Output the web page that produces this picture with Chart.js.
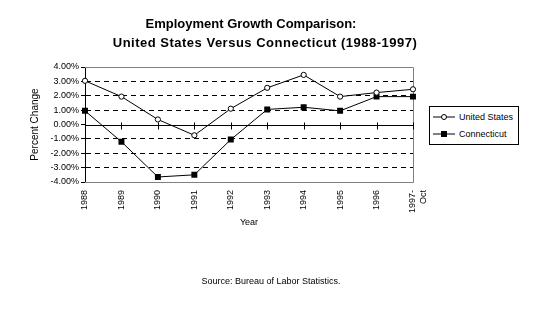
<!DOCTYPE html>
<html>
<head>
<meta charset="utf-8">
<script src="https://cdn.jsdelivr.net/npm/chart.js@4/dist/chart.umd.min.js"></script>
<style>
    body { margin: 0; background: #fff; font-family: Arial, "Liberation Sans", sans-serif; }
    #wrap { position: relative; width: 542px; height: 309px; }
    .title { position: absolute; width: 400px; text-align: center; font-weight: bold; font-size: 13px; line-height: 19px; }
    #source { position: absolute; left: 0; top: 276px; width: 542px; text-align: center; font-size: 9px; }
    #legend { position: absolute; left: 429px; top: 106px; width: 88px; height: 37px; border: 1px solid #000; background: #fff; font-size: 9px; }
    .item { position: absolute; left: 3px; height: 12px; display: flex; align-items: center; }
    .item svg { margin-right: 4px; }
</style>
</head>
<body>
<div id="wrap">
    <canvas id="chart" width="542" height="309"></canvas>
    <div class="title" style="left:51px; top:14px; letter-spacing:0;">Employment Growth Comparison:</div>
    <div class="title" style="left:65px; top:33px; letter-spacing:0.5px;">United States Versus Connecticut (1988-1997)</div>
    <div id="legend">
        <div class="item" style="top:4px;">
            <svg width="22" height="8"><line x1="0" y1="4" x2="22" y2="4" stroke="#000" stroke-width="1"/><circle cx="11" cy="4" r="2.5" fill="#fff" stroke="#000"/></svg>United States
        </div>
        <div class="item" style="top:21px;">
            <svg width="22" height="8"><line x1="0" y1="4" x2="22" y2="4" stroke="#000" stroke-width="1"/><rect x="8" y="1" width="6" height="6" fill="#000"/></svg>Connecticut
        </div>
    </div>
    <div id="source">Source: Bureau of Labor Statistics.</div>
</div>
<script>
const years = ['1988', '1989', '1990', '1991', '1992', '1993', '1994', '1995', '1996', ['1997-', 'Oct']];
const usGrowth = [3.04, 1.94, 0.35, -0.75, 1.1, 2.55, 3.45, 1.94, 2.22, 2.45];
const ctGrowth = [0.95, -1.2, -3.65, -3.5, -1.05, 1.05, 1.2, 0.95, 1.94, 1.94];
const yTicks = [4, 3, 2, 1, 0, -1, -2, -3, -4];

// gray frame, solid zero line and the little tick marks crossing it
const framePlugin = {
    id: 'frame',
    beforeDatasetsDraw(chart) {
        const { ctx, chartArea: a, scales } = chart;
        const zeroY = Math.round(scales.y.getPixelForValue(0)) + 0.5;
        ctx.save();
        ctx.lineWidth = 1;
        ctx.strokeStyle = '#808080';
        ctx.beginPath();
        ctx.moveTo(a.left, Math.round(a.top) + 0.5);
        ctx.lineTo(Math.round(a.right) + 0.5, Math.round(a.top) + 0.5);
        ctx.lineTo(Math.round(a.right) + 0.5, Math.round(a.bottom) + 0.5);
        ctx.lineTo(a.left, Math.round(a.bottom) + 0.5);
        ctx.stroke();
        ctx.strokeStyle = '#000';
        ctx.beginPath();
        ctx.moveTo(a.left, zeroY);
        ctx.lineTo(a.right, zeroY);
        years.forEach((y, i) => {
            const x = Math.round(scales.x.getPixelForValue(i)) + 0.5;
            ctx.moveTo(x, zeroY - 3);
            ctx.lineTo(x, zeroY + 4);
        });
        ctx.stroke();
        ctx.restore();
    }
};

new Chart(document.getElementById('chart'), {
    type: 'line',
    data: {
        labels: years,
        datasets: [
            {
                label: 'United States',
                data: usGrowth,
                borderColor: '#000',
                borderWidth: 1,
                backgroundColor: '#fff',
                pointStyle: 'circle',
                pointRadius: 2.6,
                pointBorderWidth: 1,
                pointBorderColor: '#000',
                pointBackgroundColor: '#fff',
                tension: 0
            },
            {
                label: 'Connecticut',
                data: ctGrowth,
                borderColor: '#000',
                borderWidth: 1,
                backgroundColor: '#000',
                pointStyle: 'rect',
                pointRadius: 4.2,
                pointBorderWidth: 0,
                pointBackgroundColor: '#000',
                tension: 0
            }
        ]
    },
    options: {
        responsive: false,
        animation: false,
        layout: { padding: { left: 29, right: 129, top: 67, bottom: 81 } },
        plugins: {
            legend: { display: false },
            tooltip: { enabled: false }
        },
        scales: {
            x: {
                offset: false,
                grid: { display: false, drawTicks: false },
                border: { display: false },
                ticks: {
                    color: '#000',
                    font: { family: 'Arial', size: 9 },
                    minRotation: 90,
                    maxRotation: 90,
                    autoSkip: false,
                    padding: 8
                },
                title: {
                    display: true,
                    text: 'Year',
                    color: '#000',
                    font: { family: 'Arial', size: 9 },
                    padding: 0
                },
                afterFit: s => { s.height = 46; }
            },
            y: {
                min: -4,
                max: 4,
                afterBuildTicks: s => { s.ticks = yTicks.map(v => ({ value: v })); },
                grid: {
                    color: c => (c.tick && Math.abs(c.tick.value) % 4 !== 0) ? '#000' : 'rgba(0,0,0,0)',
                    lineWidth: 1,
                    tickColor: '#000',
                    tickLength: 4
                },
                border: { display: true, color: '#000', width: 1, dash: [5, 4] },
                ticks: {
                    color: '#000',
                    font: { family: 'Arial', size: 9 },
                    autoSkip: false,
                    padding: 2,
                    callback: v => v.toFixed(2) + '%'
                },
                title: {
                    display: true,
                    text: 'Percent Change',
                    color: '#000',
                    font: { family: 'Arial', size: 10 },
                    padding: 0
                },
                afterFit: s => { s.width = 56; }
            }
        }
    },
    plugins: [framePlugin]
});
</script>
</body>
</html>
